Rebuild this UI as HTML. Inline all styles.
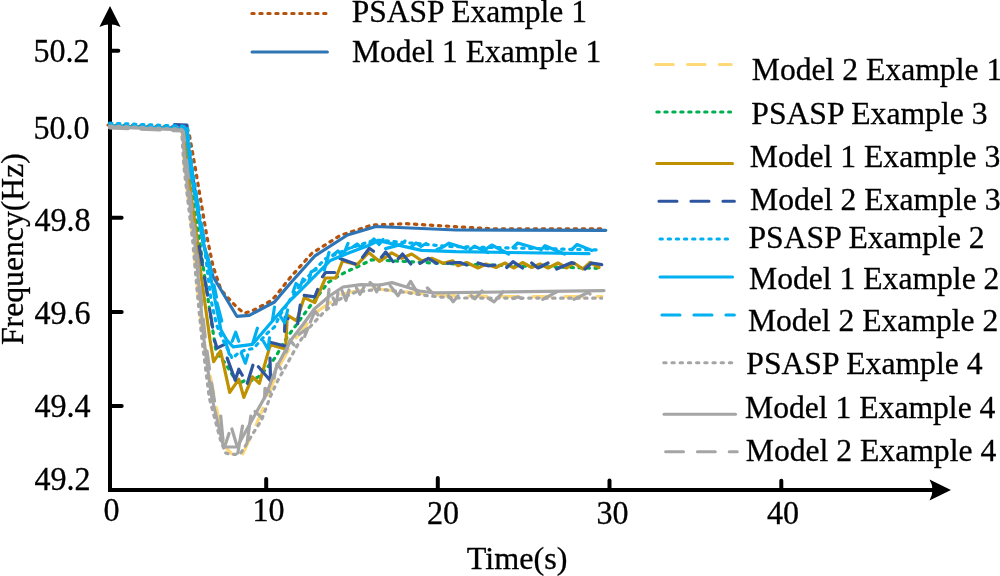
<!DOCTYPE html>
<html><head><meta charset="utf-8"><title>Frequency curves</title>
<style>
html,body{margin:0;padding:0;background:#fff;}
svg{display:block;}
text{font-family:"Liberation Serif",serif;font-size:31.65px;fill:#000;stroke:#000;stroke-width:0.3px;}
.c polyline,.c path{fill:none;stroke-width:3.2;stroke-linecap:round;stroke-linejoin:round;}
.l line{stroke-width:3;stroke-linecap:round;}
.ax line{stroke:#000;stroke-width:4;stroke-linecap:round;}
</style></head><body>
<svg width="1000" height="576" viewBox="0 0 1000 576">
<rect width="1000" height="576" fill="#fff"/>
<g class="ax">
<path d="M110 24 V490 H936" fill="none" stroke="#000" stroke-width="4" stroke-linejoin="miter"/>
<path d="M110 6 L120.6 27 Q110 21.5 99.4 27 Z" fill="#000"/>
<path d="M951 490 L929.5 479.6 Q935.5 490 929.5 500.4 Z" fill="#000"/>
<line x1="110" y1="50.8" x2="118.3" y2="50.8"/>
<line x1="110" y1="127" x2="121.5" y2="127"/>
<line x1="110" y1="217.7" x2="121.6" y2="217.7"/>
<line x1="110" y1="312" x2="121.7" y2="312"/>
<line x1="110" y1="405.9" x2="121.7" y2="405.9"/>
<line x1="266.2" y1="490" x2="266.2" y2="479"/>
<line x1="437.8" y1="490" x2="437.8" y2="478.1"/>
<line x1="609.5" y1="490" x2="609.5" y2="480.5"/>
<line x1="781.3" y1="490" x2="781.3" y2="480.7"/>
</g>
<g class="c">
<polyline points="108.0,125.0 186.8,127.2 189.4,135.0 195.3,168.0 207.0,237.0 213.0,266.0 221.0,290.0 232.2,302.5 238.3,308.6 244.3,313.1 252.0,311.0 258.4,307.6 270.5,301.0 275.0,296.7 290.0,277.8 311.7,253.5 340.0,235.5 371.7,225.0 406.7,223.7 456.0,226.7 494.0,228.9 605.0,228.8" stroke="#B5520C" stroke-dasharray="2.4 5.6"/>
<polyline points="109.5,125.8 186.0,128.5 191.5,168.0 203.0,242.0 213.0,276.5 236.8,316.3 249.3,315.3 274.5,302.0 291.0,282.5 315.0,255.8 347.5,235.0 376.0,226.5 456.0,230.0 605.8,230.3" stroke="#2E75B6"/>
<polyline points="109.5,127.5 182.0,130.5 184.5,168.0 193.0,240.0 198.5,300.0 203.0,340.0 215.0,400.0 224.0,446.0 233.0,455.0 241.3,457.0 254.0,430.0 268.5,395.0 279.0,366.7 294.0,340.0 301.5,332.0 312.3,316.2 319.3,310.0 342.5,294.0 370.0,288.0 395.0,291.0 445.0,295.8 500.0,296.5 602.0,296.6" stroke="#FFD978" stroke-dasharray="18 14"/>
<polyline points="109.5,126.0 185.5,129.0 187.6,168.0 199.5,240.0 203.0,265.0 208.6,303.0 212.6,329.0 216.0,351.0 220.0,357.0 225.7,363.7 233.2,376.3 238.3,383.8 244.3,380.8 252.4,380.3 258.4,376.8 265.5,369.7 274.5,358.6 279.0,351.0 287.0,337.3 295.7,325.7 305.2,312.7 313.3,301.7 323.7,288.3 328.6,282.2 340.0,275.0 348.6,270.7 357.0,267.0 371.7,259.8 385.0,260.4 396.0,261.0 423.3,262.5 456.0,264.0 596.7,268.3" stroke="#00B050" stroke-dasharray="2.4 5.6"/>
<polyline points="109.5,126.0 185.5,129.0 187.3,168.0 197.2,240.0 199.0,260.0 204.5,300.0 210.0,340.0 213.6,361.7 220.6,351.0 229.7,392.4 238.8,379.3 243.8,397.4 252.4,376.8 259.4,383.3 269.5,347.6 271.0,345.0 285.6,349.0 287.3,315.2 296.7,320.8 304.2,297.6 314.8,302.6 325.5,278.0 335.8,278.0 342.5,261.0 357.1,264.6 368.7,252.5 379.5,261.4 391.7,252.9 401.7,258.3 411.7,254.0 421.7,260.8 431.7,258.3 443.3,263.3 452.5,260.8 458.0,265.8 466.7,262.5 478.0,268.0 486.0,264.0 496.0,267.5 505.0,263.0 514.0,268.0 522.5,262.5 531.7,267.5 540.0,264.0 548.0,268.0 558.0,263.0 566.7,268.0 574.0,263.0 583.0,269.0 590.0,262.5 599.0,267.5" stroke="#BF9000"/>
<path d="M174.5 124.6 L187.0 125.0 L187.6 136.0 M199.3 246.3 L202.4 265.0 M204.5 277.5 L207.6 295.2 M209.6 309.0 L212.6 327.2 M214.6 340.3 L217.0 348.2 L224.0 344.6 M227.2 358.1 L235.2 380.3 L238.8 369.2 L242.3 375.2 M247.3 383.3 L252.9 365.2 M258.4 366.7 L270.5 380.8 L270.0 358.1 M271.0 342.5 L285.1 346.0 M284.6 331.3 L285.1 317.2 L288.0 318.5 M297.7 323.7 L300.2 305.1 M304.2 295.4 L314.8 296.8 L317.6 289.5 M322.5 276.8 L325.5 272.5 L334.6 272.5 M340.0 258.6 L355.3 264.0 M362.6 257.3 L369.3 248.2 L373.5 251.3 M381.4 257.3 L385.7 251.9 L393.0 261.6 M398.3 258.8 L402.5 254.0 L410.8 264.0 M420.0 263.3 L428.3 258.3 L436.7 263.3 M447.5 263.3 L456.0 262.5 L460.0 262.5 L466.7 265.0 M478.0 263.0 L488.0 265.8 L495.0 265.0 M506.7 267.5 L513.0 261.7 L522.5 268.0 M531.7 263.0 L538.0 268.0 L548.0 263.0 M556.7 269.0 L571.7 262.5 L574.0 263.5 M585.0 269.0 L591.7 263.0 L601.7 264.7" stroke="#2D55A0"/>
<polyline points="109.5,123.2 187.3,126.4 192.3,168.0 203.6,240.0 211.0,300.0 213.0,309.0 216.6,325.0 222.0,338.0 229.2,352.0 232.2,358.6 238.3,353.0 245.3,350.0 253.4,348.5 267.5,333.0 274.5,327.0 280.0,315.0 300.0,285.0 325.0,259.0 350.0,248.0 375.0,240.0 410.0,243.0 450.0,246.5 600.8,250.0" stroke="#00B0F0" stroke-dasharray="2.4 5.6"/>
<polyline points="109.5,125.8 186.5,128.8 190.0,168.0 203.0,242.0 207.5,260.0 215.0,300.0 221.0,330.0 226.7,340.0 233.2,346.8 252.4,344.3 270.5,323.2 290.6,300.0 300.0,290.8 330.4,260.4 348.6,253.0 368.0,245.8 378.4,240.6 421.6,250.4 456.0,251.7 589.0,253.7" stroke="#00B0F0"/>
<path d="M109.5 126.0 L128.0 126.8 M141.0 127.3 L160.0 128.1 M173.0 128.6 L187.0 129.0 L188.2 140.0 M190.2 160.0 L193.0 178.0 M195.6 192.0 L198.9 210.0 M201.2 223.0 L204.5 241.0 M207.2 255.0 L211.6 273.0 M214.0 285.0 L216.5 297.0 M217.0 303.0 L221.7 321.0 M225.7 342.0 L229.2 354.0 M232.2 341.3 L235.7 332.2 L238.8 341.3 M241.3 353.0 L245.3 363.2 L247.8 355.0 M252.4 344.3 L257.4 328.2 M263.4 341.3 L268.0 349.3 L269.5 337.8 M272.5 320.0 L274.5 307.0 M279.6 315.0 L284.6 323.0 L287.6 310.0 M293.0 292.0 L296.0 283.5 L300.0 287.0 L303.0 279.0 M309.0 281.0 L311.0 272.0 L316.0 269.5 M324.3 270.0 L329.0 252.5 M333.0 255.0 L338.0 251.0 L341.0 254.5 M343.7 254.3 L348.0 243.4 M352.0 247.5 L357.0 244.0 L361.0 247.5 L364.0 243.5 M370.0 243.0 L374.0 239.0 L379.0 244.5 L383.0 239.5 M385.6 248.6 L401.2 244.4 L405.0 241.0 M411.0 247.0 L416.0 243.0 L421.0 246.5 L426.0 243.5 M437.0 249.5 L443.0 247.0 L449.0 243.2 L466.0 248.5 M470.0 249.5 L474.4 246.2 L488.0 252.5 M486.0 249.0 L491.7 245.0 L508.6 254.0 M513.0 247.5 L517.7 243.0 L536.0 248.3 M541.0 250.0 L545.0 245.7 L564.5 254.0 M572.0 249.5 L577.0 244.5 L592.0 250.5" stroke="#00B0F0"/>
<polyline points="109.5,126.0 181.5,129.2 184.0,168.0 192.6,240.0 198.0,300.0 202.0,340.0 209.3,398.0 220.5,440.0 225.4,452.9 231.3,454.6 240.0,454.0 243.7,448.7 252.0,435.0 261.4,420.4 270.2,397.0 277.9,380.3 283.3,370.7 294.8,350.0 299.0,342.6 309.0,328.0 324.0,312.0 340.0,299.0 356.0,292.0 380.0,289.2 404.0,292.2 428.0,295.8 440.0,297.0 460.0,298.0 601.6,298.2" stroke="#A5A5A5" stroke-dasharray="2.4 5.6"/>
<polyline points="109.5,126.8 182.5,130.0 185.2,168.0 194.6,240.0 200.3,300.0 204.0,340.0 211.2,395.0 223.6,447.0 237.0,447.0 266.0,395.0 276.7,366.7 291.0,340.0 303.2,324.2 314.3,309.0 328.6,296.7 343.0,287.0 360.8,284.7 380.0,285.0 392.0,282.6 404.0,286.2 419.6,291.0 434.0,292.8 500.0,292.0 604.0,290.6" stroke="#A5A5A5"/>
<path d="M109.5 127.8 L128.0 128.6 M141.0 129.2 L160.0 130.0 M173.0 130.6 L183.3 131.0 L184.6 141.0 M186.6 160.0 L188.4 178.0 M189.7 192.0 L191.9 210.0 M193.5 223.0 L195.7 241.0 M197.0 255.0 L198.8 273.0 M200.2 287.0 L201.8 305.0 M203.2 319.0 L205.2 337.0 M207.0 351.0 L209.5 369.0 M211.5 383.0 L214.5 401.0 M220.7 416.0 L223.0 440.0 M229.0 433.4 L225.4 444.6 M231.9 429.0 L236.6 444.6 M242.5 426.0 L237.8 453.0 M250.8 416.0 L247.2 442.0 M255.0 411.5 L261.4 417.4 M264.5 398.0 L265.0 388.3 L270.0 392.0 M274.0 378.0 L277.0 364.0 L281.0 369.0 M286.0 352.0 L290.0 340.0 L294.0 345.0 M299.2 334.3 L307.8 328.3 L304.7 336.3 M310.4 322.0 L315.0 311.0 L318.0 315.0 M326.8 309.0 L329.0 289.4 M333.0 298.0 L336.0 304.0 L338.0 293.0 M342.0 290.7 L346.0 300.4 L349.0 290.0 M356.5 288.0 L360.0 294.3 L364.0 287.0 M370.0 282.5 L373.6 285.8 L376.6 291.9 L380.0 285.0 M390.2 285.6 L398.0 295.8 L401.0 290.4 M407.6 286.2 L410.6 281.4 L416.0 290.4 L418.4 294.0 M427.4 288.0 L432.8 293.4 M448.4 295.8 L453.2 301.8 L458.0 295.8 M471.2 295.8 L474.8 298.8 L482.0 291.0 M488.0 298.2 L494.2 301.8 L503.2 291.6 M513.0 298.5 L518.0 297.0 L522.0 298.5 M542.8 299.4 L557.2 291.6 M574.0 299.4 L588.4 292.2 L590.0 294.0" stroke="#A5A5A5"/>
</g>
<g class="l">
<line x1="251.8" y1="13.5" x2="326.2" y2="13.5" stroke="#B5520C" stroke-dasharray="2.4 5.58"/>
<text x="351.8" y="21.8" style="font-size:31.5px">PSASP Example 1</text>
<line x1="252.0" y1="52" x2="327.4" y2="52" stroke="#2E75B6"/>
<text x="352.0" y="62.2" style="font-size:31.5px">Model 1 Example 1</text>
<line x1="655.7" y1="64.5" x2="731.2" y2="64.5" stroke="#FFD978" stroke-dasharray="17.6 14.2"/>
<text x="751.8" y="79.9">Model 2 Example 1</text>
<line x1="656.8" y1="111.9" x2="730.6" y2="111.9" stroke="#00B050" stroke-dasharray="2.4 5.57"/>
<text x="751.3" y="123.7">PSASP Example 3</text>
<line x1="656.8" y1="163.6" x2="732.5" y2="163.6" stroke="#BF9000"/>
<text x="749.8" y="167.0">Model 1 Example 3</text>
<line x1="658.9" y1="201.2" x2="734.4" y2="201.2" stroke="#2D55A0" stroke-dasharray="18.1 13.9"/>
<text x="750.1" y="210.2">Model 2 Example 3</text>
<line x1="660.0" y1="239" x2="733.1" y2="239" stroke="#00B0F0" stroke-dasharray="2.4 5.74"/>
<text x="748.5" y="247.8">PSASP Example 2</text>
<line x1="660.0" y1="277.1" x2="732.5" y2="277.1" stroke="#00B0F0"/>
<text x="749.0" y="289.4">Model 1 Example 2</text>
<line x1="661.9" y1="315" x2="734.4" y2="315" stroke="#00B0F0" stroke-dasharray="18.1 13.9"/>
<text x="747.9" y="330.5">Model 2 Example 2</text>
<line x1="663.7" y1="362.8" x2="736.3" y2="362.8" stroke="#A5A5A5" stroke-dasharray="2.4 5.8"/>
<text x="746.3" y="374.2">PSASP Example 4</text>
<line x1="664.0" y1="414.3" x2="735.5" y2="414.3" stroke="#A5A5A5"/>
<text x="745.0" y="417.8">Model 1 Example 4</text>
<line x1="665.6" y1="451.7" x2="737.3" y2="451.7" stroke="#A5A5A5" stroke-dasharray="17.9 13.9"/>
<text x="745.8" y="461.0">Model 2 Example 4</text>
</g>
<g>
<text transform="translate(33.4 62.1) scale(1 1.06)" style="font-size:32.1px">50.2</text>
<text transform="translate(33.4 138.8) scale(1 1.06)" style="font-size:32.1px">50.0</text>
<text transform="translate(34.4 231) scale(1 1.06)" style="font-size:32.1px">49.8</text>
<text transform="translate(34.4 324.3) scale(1 1.06)" style="font-size:32.1px">49.6</text>
<text transform="translate(34.4 416.7) scale(1 1.06)" style="font-size:32.1px">49.4</text>
<text transform="translate(34.4 490) scale(1 1.06)" style="font-size:32.1px">49.2</text>
<text transform="translate(103.4 520.8) scale(1 1.06)" style="font-size:32.1px">0</text>
<text transform="translate(252.4 521) scale(1 1.06)" style="font-size:32.1px">10</text>
<text transform="translate(427.0 523.7) scale(1 1.06)" style="font-size:32.1px">20</text>
<text transform="translate(596.4 524.4) scale(1 1.06)" style="font-size:32.1px">30</text>
<text transform="translate(767.0 524.3) scale(1 1.06)" style="font-size:32.1px">40</text>
<text x="466.7" y="569.3" style="font-size:32.2px">Time(s)</text>
<text transform="translate(22.6 345) rotate(-90)" style="font-size:31.7px">Frequency(Hz)</text>
</g>
</svg>
</body></html>
